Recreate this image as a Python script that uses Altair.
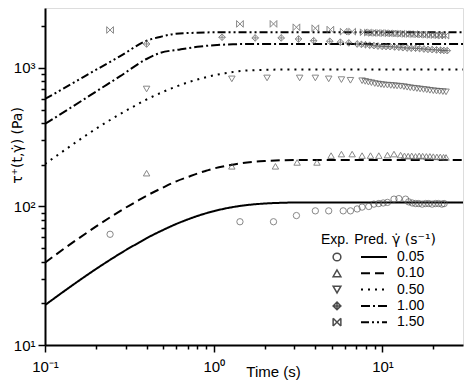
import altair as alt
import pandas as pd

FONT = "Liberation Sans"
SYMFONT = "DejaVu Sans"
rates = ["0.05", "0.10", "0.50", "1.00", "1.50"]

# ---- model predictions ----
pred_t_005 = [0.1, 0.13, 0.16, 0.2, 0.25, 0.3, 0.35, 0.4, 0.5, 0.6, 0.7, 0.8, 0.9, 1.0, 1.2, 1.4, 1.7, 2.0, 2.5, 3.0, 30]
pred_v_005 = [19.4, 24.5, 29.3, 35.3, 42.1, 48.3, 53.8, 59, 67.6, 74.8, 80.6, 85.4, 89.3, 92.5, 97.3, 100.5, 103.4, 105, 106.3, 106.8, 107]
pred_t_010 = [0.1, 0.13, 0.16, 0.2, 0.25, 0.3, 0.35, 0.4, 0.5, 0.6, 0.7, 0.8, 0.9, 1.0, 1.2, 1.4, 1.7, 2.0, 2.5, 3.0, 30]
pred_v_010 = [39.3, 49.7, 59.4, 71.5, 85.4, 97.9, 109, 119.5, 137, 152, 163, 173, 181, 188, 197, 204, 210, 213, 215.5, 216.5, 217]
pred_t_050 = [0.1, 0.13, 0.16, 0.2, 0.25, 0.3, 0.35, 0.4, 0.5, 0.6, 0.7, 0.8, 0.9, 1.0, 1.2, 1.4, 1.7, 2.0, 2.5, 3.0, 30]
pred_v_050 = [203, 254, 303, 363, 430, 489, 543, 592, 672, 735, 786, 826, 858, 884, 920, 948, 963, 970, 974, 975, 975]
pred_t_100 = [0.1, 0.147, 0.212, 0.279, 0.40, 0.48, 0.632, 0.832, 1.093, 1.3, 1.65, 30]
pred_v_100 = [394, 530, 705, 873, 1161, 1282, 1361, 1430, 1469, 1483, 1490, 1490]
pred_t_150 = [0.1, 0.147, 0.212, 0.279, 0.40, 0.48, 0.577, 0.776, 1.093, 30]
pred_v_150 = [597, 780, 1007, 1216, 1574, 1675, 1758, 1795, 1811, 1811]

exp_t_005 = [0.243, 1.43, 2.26, 3.09, 4.0, 4.8, 5.85, 6.46, 7.08, 7.57, 8.29, 8.89, 9.5,
             10.1, 10.7, 11.7, 12.5, 13.7, 14.3, 15.0, 15.7, 16.4, 17.2, 18.0, 18.8,
             19.7, 20.6, 21.5, 22.5, 23.2]
exp_v_005 = [63, 77.6, 77.6, 86, 93, 93, 93, 93, 96, 99, 100, 104, 105,
             106, 107, 113, 114, 113, 108, 106, 105, 105, 104, 105, 105,
             104, 105, 105, 104, 105]
exp_t_010 = [0.40, 1.28, 2.32, 3.12, 4.09, 4.96, 5.71, 6.61, 7.57, 8.49, 9.51, 10.7, 11.7,
             12.8, 13.5, 14.2, 14.9, 15.7, 16.5, 17.3, 18.2, 19.1, 20.0, 21.0, 22.0, 23.0, 23.8]
exp_v_010 = [174, 195, 195, 208, 208, 233, 239, 239, 233, 233, 233, 235, 239,
             235, 232, 231, 232, 230, 232, 231, 230, 230, 229, 228, 228, 227, 226]
exp_t_050 = [0.40, 1.28, 2.07, 3.23, 4.0, 4.8, 5.71, 6.46, 7.57, 7.9, 8.25, 8.6, 9.0, 9.4,
             9.8, 10.2, 10.7, 11.2, 11.7, 12.2, 12.8, 13.4, 14.0, 14.6, 15.3, 16.0, 16.7,
             17.5, 18.3, 19.1, 20.0, 20.9, 21.8, 22.8, 23.8]
exp_v_050 = [705, 834, 847, 847, 847, 834, 824, 815, 809, 800, 790, 783, 772, 766,
             760, 755, 752, 748, 745, 741, 738, 733, 726, 720, 714, 710, 705,
             700, 696, 690, 685, 681, 678, 675, 672]
exp_t_100 = [0.40, 1.12, 1.76, 2.51, 3.18, 3.91, 4.87, 5.63, 6.31, 7.08, 7.5, 7.93, 8.4,
             8.89, 9.4, 9.95, 10.5, 11.1, 11.8, 12.5, 13.2, 14.0, 14.8, 15.7, 16.6,
             17.6, 18.6, 19.7, 20.9, 22.1, 23.1, 24.2]
exp_v_100 = [1490, 1667, 1648, 1648, 1619, 1574, 1559, 1535, 1517, 1490, 1480, 1473, 1460,
             1449, 1440, 1433, 1428, 1425, 1418, 1412, 1400, 1394, 1390, 1388, 1380,
             1371, 1362, 1356, 1350, 1342, 1338, 1334]
exp_t_150 = [0.243, 1.43, 2.26, 3.09, 4.0, 4.91, 5.89, 6.61, 7.74, 8.2, 8.68, 9.2, 9.73,
             10.3, 10.9, 11.5, 12.2, 12.9, 13.7, 14.5, 15.4, 16.3, 17.2, 18.2, 19.3,
             20.4, 21.6, 22.6, 23.6]
exp_v_150 = [1880, 2080, 2080, 1968, 1937, 1892, 1829, 1829, 1811, 1800, 1790, 1790, 1790,
             1785, 1781, 1776, 1772, 1766, 1760, 1757, 1755, 1748, 1742, 1736, 1731,
             1728, 1726, 1718, 1712]

pred_df = pd.concat([
    pd.DataFrame({"t": pred_t_005, "tau": pred_v_005, "rate": "0.05"}),
    pd.DataFrame({"t": pred_t_010, "tau": pred_v_010, "rate": "0.10"}),
    pd.DataFrame({"t": pred_t_050, "tau": pred_v_050, "rate": "0.50"}),
    pd.DataFrame({"t": pred_t_100, "tau": pred_v_100, "rate": "1.00"}),
    pd.DataFrame({"t": pred_t_150, "tau": pred_v_150, "rate": "1.50"}),
])
exp_df = pd.concat([
    pd.DataFrame({"t": exp_t_005, "tau": exp_v_005, "rate": "0.05"}),
    pd.DataFrame({"t": exp_t_010, "tau": exp_v_010, "rate": "0.10"}),
    pd.DataFrame({"t": exp_t_050, "tau": exp_v_050, "rate": "0.50"}),
    pd.DataFrame({"t": exp_t_100, "tau": exp_v_100, "rate": "1.00"}),
    pd.DataFrame({"t": exp_t_150, "tau": exp_v_150, "rate": "1.50"}),
])

x_ticks = [0.1, 0.2, 0.3, 0.4, 0.5, 0.6, 0.7, 0.8, 0.9, 1, 2, 3, 4, 5, 6, 7, 8, 9, 10, 20]
y_ticks = [10, 20, 30, 40, 50, 60, 70, 80, 90, 100, 200, 300, 400, 500, 600, 700, 800, 900,
           1000, 2000]

# ---- styles ----
dashes = [[1, 0], [9, 5], [2, 5], [9, 3, 2, 3], [8, 3, 2, 3, 2, 3]]
diamond_cross = "M0,-1L1,0L0,1L-1,0Z M0,-1L0,1 M-1,0L1,0"
bowtie_x = "M-1,-1L1,1 M-1,1L1,-1 M-1,-1L-1,1 M1,-1L1,1"
shapes = ["circle", "triangle-up", "triangle-down", diamond_cross, bowtie_x]
sizes = [40, 45, 45, 65, 45]

W, H = 418, 337
xscale = alt.Scale(type="log", domain=[0.1, 30], nice=False)
yscale = alt.Scale(type="log", domain=[10, 2710], nice=False)
major_test = "abs(log(datum.value)/LN10 - round(log(datum.value)/LN10)) < 0.001"
tick_size = {"condition": {"test": major_test, "value": 7}, "value": 4}

xaxis = alt.Axis(
    values=x_ticks, title="Time (s)", tickSize=tick_size,
    labelExpr="datum.value == 0.1 ? '10⁻¹' : datum.value == 1 ? '10⁰' : datum.value == 10 ? '10¹' : ''",
    labelOverlap=False, labelFlush=False, grid=False,
    domainColor="black", domainWidth=2, tickColor="black", tickWidth=1.5,
    labelFont=FONT, labelFontSize=15, labelColor="black", labelPadding=7,
    titleFont=FONT, titleFontSize=15, titleFontWeight="normal", titleColor="black",
    titleX=228, titleY=26, titleAlign="center", titleBaseline="middle")
yaxis = alt.Axis(
    values=y_ticks, title="τ⁺(t,γ̇) (Pa)", tickSize=tick_size,
    labelExpr="datum.value == 10 ? '10¹' : datum.value == 100 ? '10²' : datum.value == 1000 ? '10³' : ''",
    labelOverlap=False, labelFlush=False, grid=False,
    domainColor="black", domainWidth=2, tickColor="black", tickWidth=1.5,
    labelFont=FONT, labelFontSize=15, labelColor="black", labelPadding=3,
    titleFont=SYMFONT, titleFontSize=14, titleFontWeight="normal", titleColor="black",
    titleX=-28, titleY=137, titleAngle=270, titleAlign="center", titleBaseline="middle")

lines = alt.Chart(pred_df).mark_line(color="black", strokeWidth=2, interpolate="monotone", clip=True).encode(
    x=alt.X("t:Q", scale=xscale, axis=xaxis),
    y=alt.Y("tau:Q", scale=yscale, axis=yaxis),
    strokeDash=alt.StrokeDash("rate:N", scale=alt.Scale(domain=rates, range=dashes), legend=None),
    detail="rate:N",
)
points = alt.Chart(exp_df).mark_point(filled=False, color="#555555", strokeWidth=1, clip=True).encode(
    x=alt.X("t:Q", scale=xscale),
    y=alt.Y("tau:Q", scale=yscale),
    shape=alt.Shape("rate:N", scale=alt.Scale(domain=rates, range=shapes), legend=None),
    size=alt.Size("rate:N", scale=alt.Scale(domain=rates, range=sizes), legend=None),
)

# ---- hand-made legend (pixel positions inside the plot) ----
legend_layers = []
header_labels = ["Exp.", "Pred.", "γ̇ (s⁻¹)"]
header_x = [290, 326, 347]
header_align = ["center", "center", "left"]
header_font = [FONT, FONT, SYMFONT]
for lab, hx, al, fnt in zip(header_labels, header_x, header_align, header_font):
    legend_layers.append(
        alt.Chart(pd.DataFrame({"lab": [lab]})).mark_text(
            font=fnt, fontSize=14, color="black", align=al, baseline="middle").encode(
            text="lab:N", x=alt.value(hx), y=alt.value(232)))
for i, r in enumerate(rates):
    yy = 249 + 16.3 * i
    d = pd.DataFrame({"rate": [r]})
    legend_layers.append(
        alt.Chart(d).mark_point(filled=False, color="black", strokeWidth=1.5, size=60,
                                shape=shapes[i]).encode(x=alt.value(292), y=alt.value(yy)))
    legend_layers.append(
        alt.Chart(d).mark_rule(color="black", strokeWidth=2, strokeDash=dashes[i]).encode(
            x=alt.value(316), x2=alt.value(342), y=alt.value(yy)))
    legend_layers.append(
        alt.Chart(d).mark_text(font=FONT, fontSize=14, color="black", align="left",
                               baseline="middle").encode(
            text="rate:N", x=alt.value(352), y=alt.value(yy)))

chart = alt.layer(lines, points, *legend_layers).properties(
    width=W, height=H,
    padding={"left": 37, "top": 0, "right": 3, "bottom": 36},
    autosize=alt.AutoSizeParams(type="none"),
).configure_view(stroke="black", strokeWidth=2).configure(background="white")

chart.save("out.html", embed_options={"renderer": "svg", "actions": False})
